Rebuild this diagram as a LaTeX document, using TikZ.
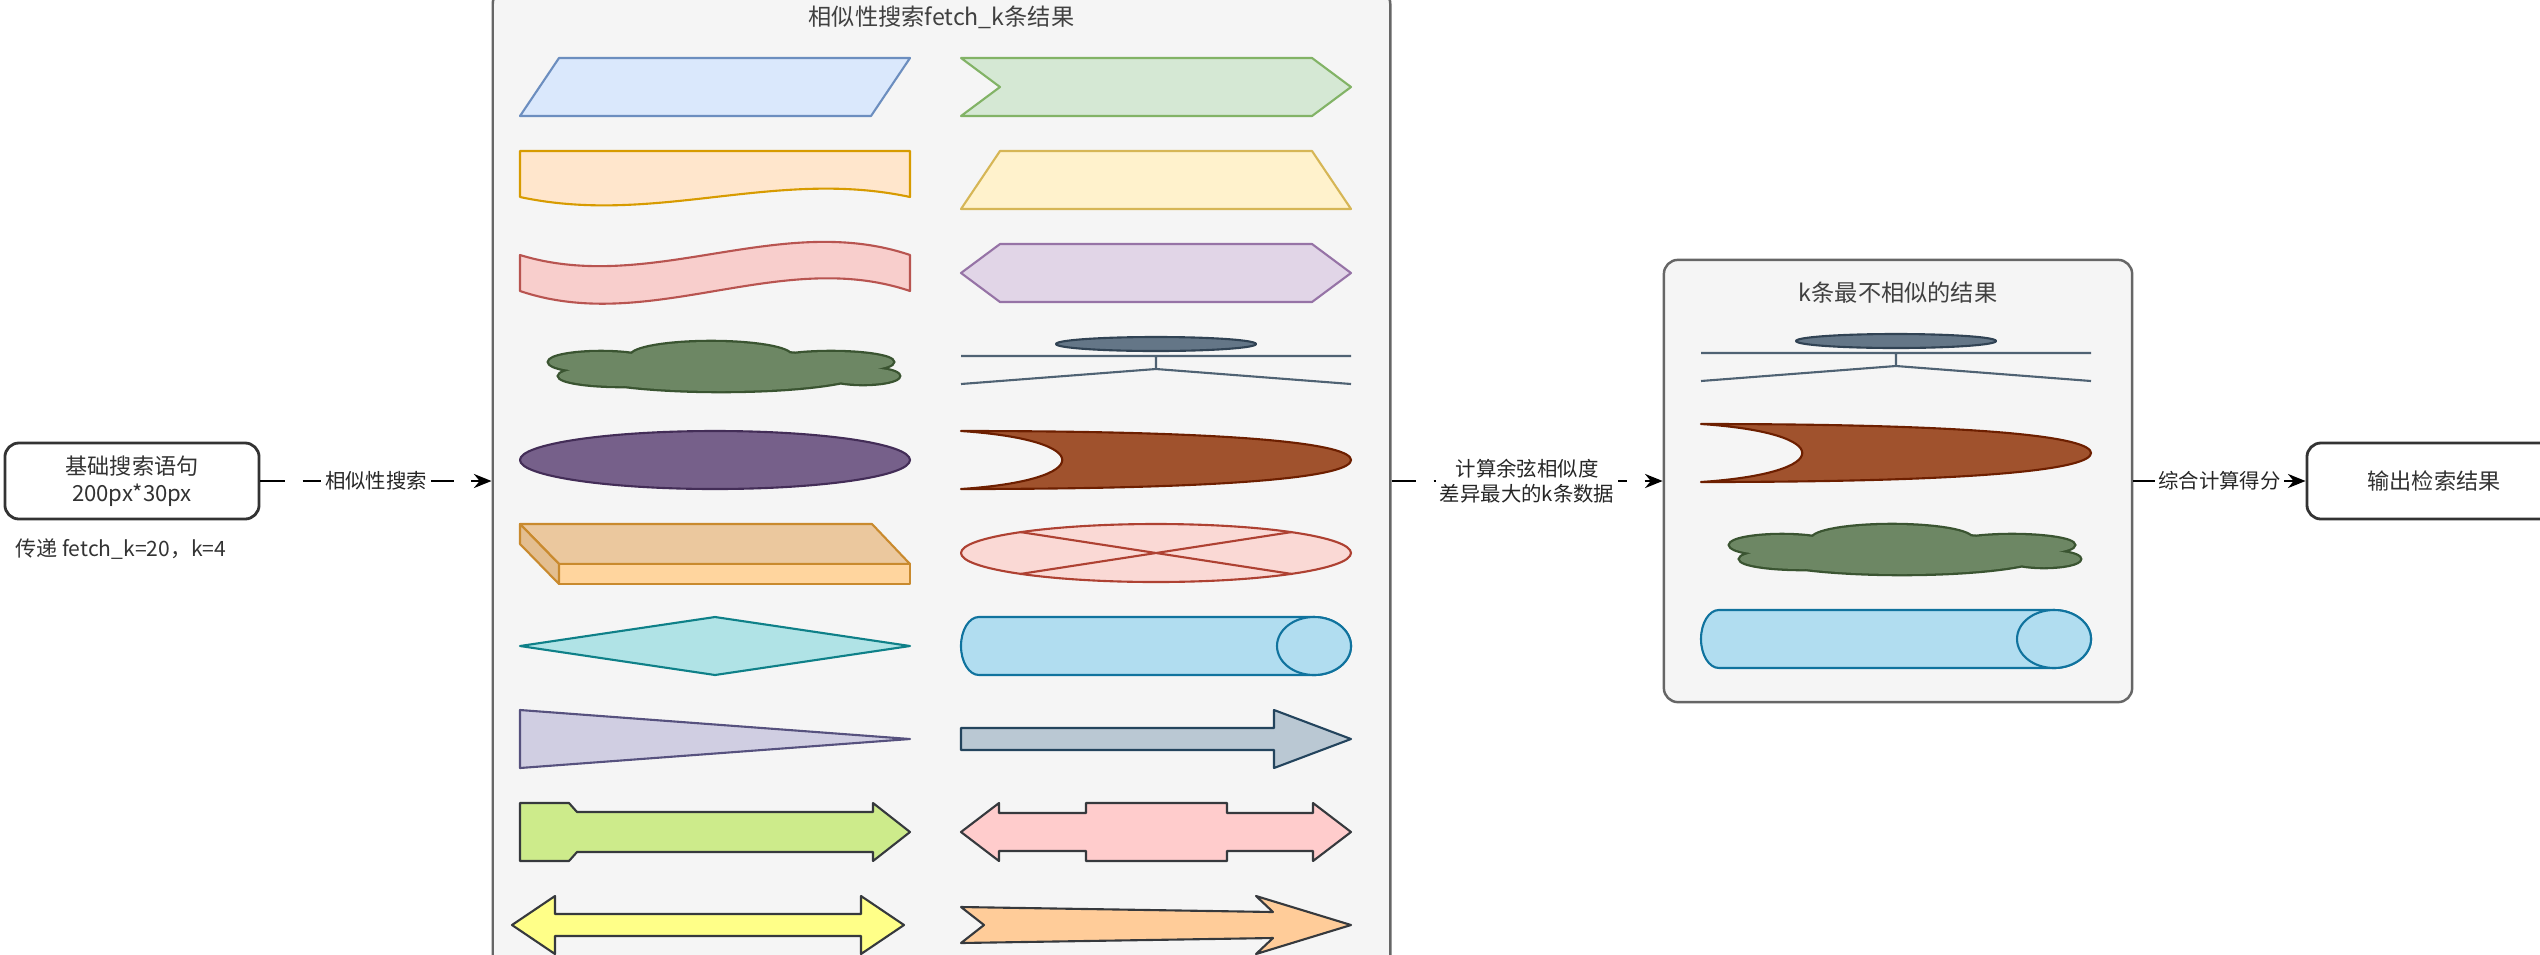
\documentclass[tikz,border=0pt]{standalone}
\usepackage{fontspec}
\setmainfont{Noto Sans CJK SC}
\usetikzlibrary{arrows.meta}
\definecolor{cfill}{HTML}{F5F5F5}\definecolor{cline}{HTML}{666666}
\newcommand\dc[1]{\definecolor{h#1}{HTML}{#1}}
\dc{3A5431}\dc{6D8764}\dc{314354}\dc{647687}\dc{4F6273}\dc{6D1F00}\dc{A0522D}\dc{10739E}\dc{B1DDF0}
\dc{6C8EBF}\dc{DAE8FC}\dc{D79B00}\dc{FFE6CC}\dc{B85450}\dc{F8CECC}\dc{432D57}\dc{76608A}\dc{C98A2E}
\dc{EBC89E}\dc{FFD59E}\dc{E3BE90}\dc{0E8088}\dc{B0E3E6}\dc{56517E}\dc{D0CEE2}\dc{36393D}\dc{CDEB8B}
\dc{FFFF88}\dc{82B366}\dc{D5E8D4}\dc{D6B656}\dc{FFF2CC}\dc{9673A6}\dc{E1D5E7}\dc{AE4132}\dc{FAD9D5}
\dc{23445D}\dc{BAC8D3}\dc{FFCCCC}\dc{FFCC99}
\tikzset{
 shp/.style={line width=0.6pt,line join=round},
 container/.style={draw=cline,fill=cfill,line width=0.7pt,rounded corners=4pt},
 boxn/.style={draw=black!80,fill=white,line width=0.8pt,rounded corners=4pt,minimum width=2.54cm,minimum height=0.76cm,align=center,font=\fontsize{6.3pt}{7.6pt}\selectfont,text=black!80},
 lab/.style={fill=white,inner sep=1pt,align=center,font=\fontsize{5.8pt}{7.2pt}\selectfont,text=black!85},
 conn/.style={draw=black,line width=0.7pt,-{Stealth[length=5pt,width=4pt]}},
}
\newcommand\CloudAt[1]{\begin{scope}[shift={#1}]
 \foreach \s/\c/\w in {draw/3A5431/1.3pt,fill/6D8764/0pt}{
  \path[\s=h\c,line width=\w]
  (0,5) ellipse [x radius=145,y radius=20]
  (-10,-10) ellipse [x radius=80,y radius=14]
  (-120,-4) ellipse [x radius=52,y radius=10]
  (-100,10) ellipse [x radius=62,y radius=10]
  (110,-4) ellipse [x radius=62,y radius=10]
  (142,10) ellipse [x radius=36,y radius=8];}
 \end{scope}}
\newcommand\TreeAt[1]{\begin{scope}[shift={#1}]
 \draw[shp,draw=h314354,fill=h647687] (0,-22) ellipse [x radius=100,y radius=7];
 \draw[shp,draw=h4F6273] (-195,-10) -- (195,-10) (0,-10) -- (0,3) (-195,18) -- (0,3) -- (195,18);
 \end{scope}}
\newcommand\MoonAt[1]{\begin{scope}[shift={#1}]
 \draw[shp,draw=h6D1F00,fill=hA0522D] (-195,-29) .. controls (100,-29) and (195,-15) .. (195,0) .. controls (195,15) and (100,29) .. (-195,29) .. controls (-60,20) and (-60,-20) .. (-195,-29) -- cycle;
 \end{scope}}
\newcommand\CylAt[1]{\begin{scope}[shift={#1}]
 \draw[shp,draw=h10739E,fill=hB1DDF0] (-177,-29) -- (158,-29) arc[start angle=90,end angle=-90,x radius=0.37cm,y radius=0.29cm] -- (-177,29) arc[start angle=270,end angle=90,x radius=0.18cm,y radius=0.29cm] -- cycle;
 \draw[shp,draw=h10739E,fill=hB1DDF0] (158,0) ellipse [x radius=37,y radius=29];
 \end{scope}}
\begin{document}
\begin{tikzpicture}[x=0.01cm,y=-0.01cm]
\useasboundingbox (0,0) rectangle (2540,954);
% containers
\node[container,minimum width=8.97cm,minimum height=9.9cm] (big) at (941.5,485) {};
\node[font=\fontsize{6.6pt}{8pt}\selectfont,text=black!75] (bigt) at (941.5,17) {相似性搜索fetch\_k条结果};
\node[container,minimum width=4.68cm,minimum height=4.42cm] (sel) at (1898,481) {};
\node[font=\fontsize{6.6pt}{8pt}\selectfont,text=black!75] (selt) at (1898,293) {k条最不相似的结果};
% boxes
\node[boxn] (in) at (132,481) {基础搜索语句\\200px*30px};
\node[font=\fontsize{6pt}{7pt}\selectfont,text=black!80,anchor=west] (note) at (3,549) {传递 fetch\_k=20，k=4};
\node[boxn] (out) at (2434,481) {输出检索结果};
% connectors
\draw[conn,dashed,dash pattern=on 7pt off 5pt] (in.east) -- node[lab] {相似性搜索} (in.east -| big.west);
\draw[conn,dashed,dash pattern=on 7pt off 5pt] (big.east |- sel.west) -- node[lab] {计算余弦相似度\\差异最大的k条数据} (sel.west);
\draw[conn] (sel.east) -- node[lab] {综合计算得分} (out.west);
% left column (center x 715)
\begin{scope}[shift={(715,87)}]
 \draw[shp,draw=h6C8EBF,fill=hDAE8FC] (-156,-29) -- (195,-29) -- (156,29) -- (-195,29) -- cycle;\end{scope}
\begin{scope}[shift={(715,180)}]
 \draw[shp,draw=hD79B00,fill=hFFE6CC] (-195,-29) -- (195,-29) -- (195,17) .. controls (60,-12) and (-60,46) .. (-195,17) -- cycle;\end{scope}
\begin{scope}[shift={(715,273)}]
 \draw[shp,draw=hB85450,fill=hF8CECC] (-195,-18) .. controls (-65,22) and (65,-62) .. (195,-18) -- (195,18) .. controls (65,-26) and (-65,62) .. (-195,18) -- cycle;\end{scope}
\CloudAt{(721,366)}
\begin{scope}[shift={(715,460)}]
 \draw[shp,draw=h432D57,fill=h76608A] (0,0) ellipse [x radius=195,y radius=29];\end{scope}
\begin{scope}[shift={(715,553)}]
 \draw[shp,draw=hC98A2E,fill=hEBC89E] (-195,-29) -- (157,-29) -- (195,11) -- (-156,11) -- cycle;
 \draw[shp,draw=hC98A2E,fill=hFFD59E] (-156,11) -- (195,11) -- (195,31) -- (-156,31) -- cycle;
 \draw[shp,draw=hC98A2E,fill=hE3BE90] (-195,-29) -- (-156,11) -- (-156,31) -- (-195,-9) -- cycle;\end{scope}
\begin{scope}[shift={(715,646)}]
 \draw[shp,draw=h0E8088,fill=hB0E3E6] (-195,0) -- (0,-29) -- (195,0) -- (0,29) -- cycle;\end{scope}
\begin{scope}[shift={(715,739)}]
 \draw[shp,draw=h56517E,fill=hD0CEE2] (-195,-29) -- (195,0) -- (-195,29) -- cycle;\end{scope}
\begin{scope}[shift={(715,832)}]
 \draw[shp,draw=h36393D,fill=hCDEB8B] (-195,-29) -- (-146,-29) -- (-138,-20) -- (158,-20) -- (158,-29) -- (195,0) -- (158,29) -- (158,20) -- (-138,20) -- (-146,29) -- (-195,29) -- cycle;\end{scope}
\begin{scope}[shift={(715,925)}]
 \draw[shp,draw=h36393D,fill=hFFFF88] (-203,0) -- (-160,-29) -- (-160,-11) -- (146,-11) -- (146,-29) -- (189,0) -- (146,29) -- (146,11) -- (-160,11) -- (-160,29) -- cycle;\end{scope}
% right column (center x 1156)
\begin{scope}[shift={(1156,87)}]
 \draw[shp,draw=h82B366,fill=hD5E8D4] (-195,-29) -- (156,-29) -- (195,0) -- (156,29) -- (-195,29) -- (-156,0) -- cycle;\end{scope}
\begin{scope}[shift={(1156,180)}]
 \draw[shp,draw=hD6B656,fill=hFFF2CC] (-195,29) -- (-156,-29) -- (156,-29) -- (195,29) -- cycle;\end{scope}
\begin{scope}[shift={(1156,273)}]
 \draw[shp,draw=h9673A6,fill=hE1D5E7] (-195,0) -- (-156,-29) -- (156,-29) -- (195,0) -- (156,29) -- (-156,29) -- cycle;\end{scope}
\TreeAt{(1156,366)}
\MoonAt{(1156,460)}
\begin{scope}[shift={(1156,553)}]
 \draw[shp,draw=hAE4132,fill=hFAD9D5] (0,0) ellipse [x radius=195,y radius=29];
 \draw[shp,draw=hAE4132] (-136,-21) -- (136,21) (136,-21) -- (-136,21);\end{scope}
\CylAt{(1156,646)}
\begin{scope}[shift={(1156,739)}]
 \draw[shp,draw=h23445D,fill=hBAC8D3] (-195,-11) -- (118,-11) -- (118,-29) -- (195,0) -- (118,29) -- (118,11) -- (-195,11) -- cycle;\end{scope}
\begin{scope}[shift={(1156,832)}]
 \draw[shp,draw=h36393D,fill=hFFCCCC] (-195,0) -- (-157,-29) -- (-157,-19) -- (-70,-19) -- (-70,-29) -- (71,-29) -- (71,-19) -- (157,-19) -- (157,-29) -- (195,0) -- (157,29) -- (157,19) -- (71,19) -- (71,29) -- (-70,29) -- (-70,19) -- (-157,19) -- (-157,29) -- cycle;\end{scope}
\begin{scope}[shift={(1156,925)}]
 \draw[shp,draw=h36393D,fill=hFFCC99] (-195,-18) -- (117,-13) -- (100,-29) -- (195,0) -- (100,29) -- (117,13) -- (-195,18) -- (-172,0) -- cycle;\end{scope}
% selected column (center x 1896)
\TreeAt{(1896,363)}
\MoonAt{(1896,453)}
\CloudAt{(1902,549)}
\CylAt{(1896,639)}
\end{tikzpicture}
\end{document}
